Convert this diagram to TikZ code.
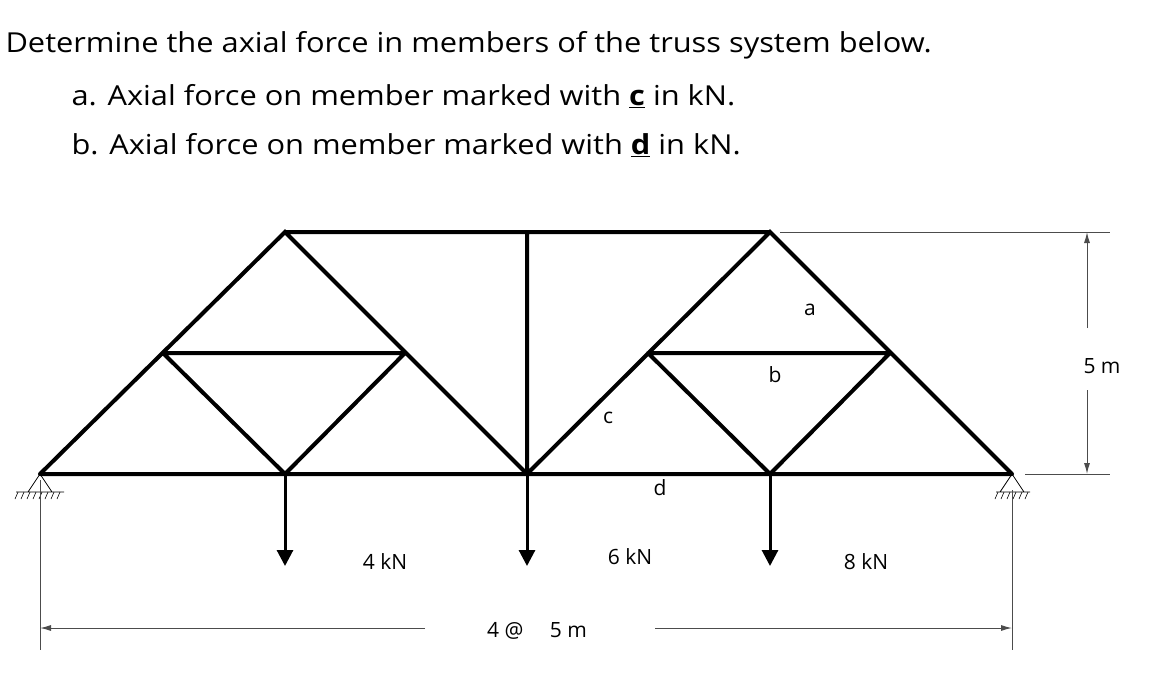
\documentclass[tikz,border=0pt]{standalone}
\usepackage{fontspec}
\setmainfont{Open Sans}
\newfontfamily\wideft[FakeStretch=1.12]{Open Sans}
\usetikzlibrary{arrows.meta}
\begin{document}
\begin{tikzpicture}[x=1pt,y=-1pt,
  mem/.style={line width=4pt,line cap=round},
  thin/.style={line width=1pt,gray!60!black},
  load/.style={line width=3pt,-{Triangle[length=16pt,width=16pt]}},
  dim/.style={thin,-{Latex[length=11pt,width=6pt]}},
  lbl/.style={font=\fontsize{21}{23}\selectfont},
  head/.style={anchor=west,font=\wideft\fontsize{27.5}{30}\selectfont}]
\useasboundingbox (0,0) rectangle (1174,673);
\node[head] (t0) at (2,45) {Determine the axial force in members of the truss system below.};
\node[head] (t1) at (68,96) {a. Axial force on member marked with \underline{\textbf{c}} in kN.};
\node[head] (t2) at (68,145) {b. Axial force on member marked with \underline{\textbf{d}} in kN.};
\coordinate (A) at (40,474); \coordinate (B) at (285,474); \coordinate (C) at (527,474);
\coordinate (D) at (770,474); \coordinate (E) at (1012,474);
\coordinate (T1) at (285,232); \coordinate (T2) at (527,232); \coordinate (T3) at (770,232);
\coordinate (M1) at (163,353); \coordinate (M2) at (405,353); \coordinate (M3) at (648,353); \coordinate (M4) at (890,353);
\draw[mem] (A)--(E) (T1)--(T3) (A)--(T1)--(C)--(T3)--(E) (T2)--(C)
  (M1)--(M2) (M3)--(M4) (M1)--(B)--(M2) (M3)--(D)--(M4);
% supports
\draw[line width=0.8pt] (A)--(28,492)--(52,492)--cycle (16,492)--(64,492);
\foreach \x in {18,24,...,62} \draw[line width=0.6pt] (\x,492)--(\x-3,499);
\draw[line width=0.8pt] (E)--(1000,492)--(1024,492)--cycle (996,492)--(1030,492);
\foreach \x in {998,1004,...,1028} \draw[line width=0.6pt] (\x,492)--(\x-3,499);
% loads
\coordinate (L1) at (285,566); \coordinate (L2) at (527,566); \coordinate (L3) at (770,566);
\draw[load] (B)--(L1); \draw[load] (C)--(L2); \draw[load] (D)--(L3);
\node[lbl] (k1) at (385,562) {4 kN};
\node[lbl] (k2) at (630,557) {6 kN};
\node[lbl] (k3) at (866,562) {8 kN};
% member labels
\node[lbl] (la) at (810,310) {a};
\node[lbl] (lb) at (775,375) {b};
\node[lbl] (lc) at (608,418) {c};
\node[lbl] (ld) at (660,488) {d};
% dimensions
\draw[thin] (40,480)--(40,650) (1012,490)--(1012,650);
\draw[thin] (780,232)--(1110,232) (1025,474)--(1110,474);
\coordinate (dl) at (40,628); \coordinate (dr) at (1012,628);
\draw[dim] (425,628)--(dl); \draw[dim] (655,628)--(dr);
\node[lbl] (dt) at (537,631) {4 @ \quad 5 m};
\coordinate (vt) at (1087,232); \coordinate (vb) at (1087,474);
\draw[dim] (1087,328)--(vt); \draw[dim] (1087,390)--(vb);
\node[lbl] (vd) at (1102,366) {5 m};
\end{tikzpicture}
\end{document}
